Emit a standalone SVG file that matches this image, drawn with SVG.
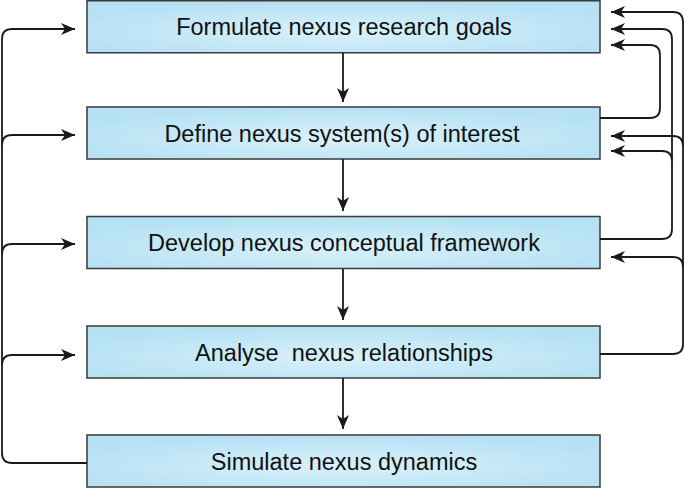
<svg xmlns="http://www.w3.org/2000/svg" width="685" height="488" viewBox="0 0 685 488">
  <defs>
    <radialGradient id="boxfill" cx="0.5" cy="0.6" r="0.6">
      <stop offset="0" stop-color="#d9f1fb"/>
      <stop offset="1" stop-color="#b5e1f3"/>
    </radialGradient>
    <marker id="arrow" markerUnits="userSpaceOnUse" markerWidth="16" markerHeight="13" refX="14" refY="6" orient="auto">
      <path d="M0,0 L14,6 L0,12 L4,6 z" fill="#1a1a1a"/>
    </marker>
  </defs>
  <style>
    .box { fill: url(#boxfill); stroke: #3a3a3a; stroke-width: 1.5; }
    .label { font-family: "Liberation Sans", Arial, sans-serif; font-size: 23.5px; fill: #111; text-anchor: middle; }
    .conn { fill: none; stroke: #1a1a1a; stroke-width: 1.8; }
  </style>

  <g id="node-formulate">
    <rect class="box" x="87" y="0.75" width="513" height="52"/>
    <text class="label" x="344" y="35">Formulate nexus research goals</text>
  </g>
  <g id="node-define">
    <rect class="box" x="87" y="107" width="513" height="52"/>
    <text class="label" x="342" y="142">Define nexus system(s) of interest</text>
  </g>
  <g id="node-develop">
    <rect class="box" x="87" y="216.5" width="513" height="52"/>
    <text class="label" x="344" y="251">Develop nexus conceptual framework</text>
  </g>
  <g id="node-analyse">
    <rect class="box" x="87" y="326" width="513" height="52"/>
    <text class="label" x="344" y="361" xml:space="preserve">Analyse  nexus relationships</text>
  </g>
  <g id="node-simulate">
    <rect class="box" x="87" y="435" width="513" height="52"/>
    <text class="label" x="344" y="470">Simulate nexus dynamics</text>
  </g>

  <g id="connectors">
    <path class="conn" d="M343,53 V102" marker-end="url(#arrow)"/>
    <path class="conn" d="M343,159 V211" marker-end="url(#arrow)"/>
    <path class="conn" d="M343,269 V320" marker-end="url(#arrow)"/>
    <path class="conn" d="M343,378 V429" marker-end="url(#arrow)"/>

    <path class="conn" d="M87,463 H12 Q2,463 2,453 V39 Q2,29 12,29 H75" marker-end="url(#arrow)"/>
    <path class="conn" d="M2,145 Q2,135 12,135 H75" marker-end="url(#arrow)"/>
    <path class="conn" d="M2,254 Q2,244 12,244 H75" marker-end="url(#arrow)"/>
    <path class="conn" d="M2,365 Q2,355 12,355 H75" marker-end="url(#arrow)"/>

    <path class="conn" d="M600,354 H673 Q683,354 683,344 V22 Q683,12 673,12 H611" marker-end="url(#arrow)"/>
    <path class="conn" d="M683,146 Q683,136 673,136 H611" marker-end="url(#arrow)"/>
    <path class="conn" d="M683,267 Q683,257 673,257 H611" marker-end="url(#arrow)"/>

    <path class="conn" d="M600,239 H662 Q672,239 672,229 V39 Q672,29 662,29 H611" marker-end="url(#arrow)"/>
    <path class="conn" d="M672,161 Q672,151 662,151 H611" marker-end="url(#arrow)"/>

    <path class="conn" d="M600,118 H650 Q660,118 660,108 V55 Q660,45 650,45 H611" marker-end="url(#arrow)"/>
  </g>
</svg>
